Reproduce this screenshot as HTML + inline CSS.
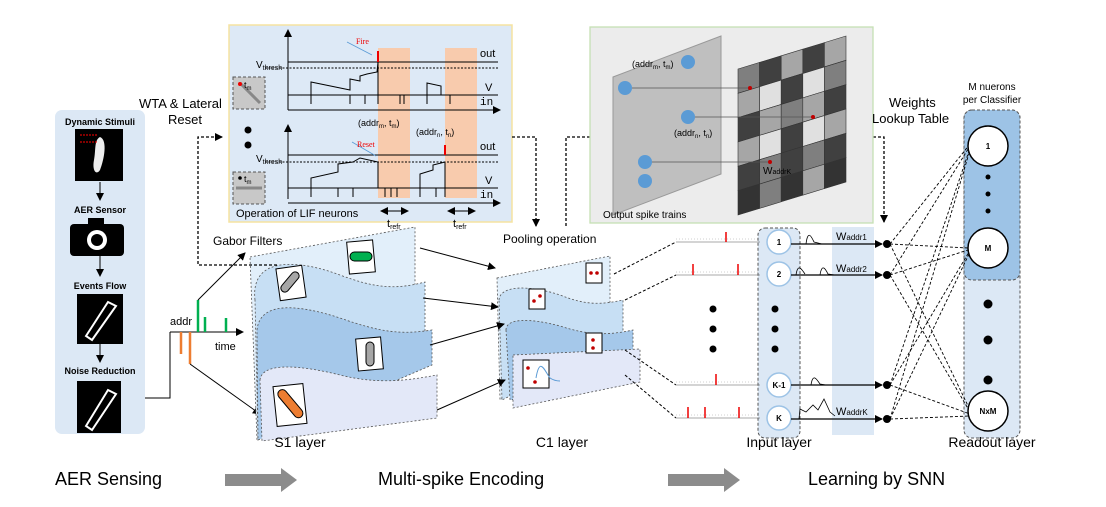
<!DOCTYPE html>
<html><head><meta charset="utf-8"><style>
html,body{margin:0;padding:0;background:#fff;}
svg{display:block;font-family:"Liberation Sans",sans-serif;}
</style></head><body>
<svg width="1106" height="507" viewBox="0 0 1106 507" xmlns="http://www.w3.org/2000/svg">
<defs>
<marker id="a" markerWidth="8" markerHeight="8" refX="7" refY="4" orient="auto" markerUnits="userSpaceOnUse"><path d="M0,0 L8,4 L0,8z" fill="#000"/></marker>
</defs>

<!-- Left panel -->
<rect x="55" y="110" width="90" height="324" rx="7" fill="#dce8f5"/>
<text x="100" y="125" font-size="9" font-weight="bold" text-anchor="middle">Dynamic Stimuli</text>
<rect x="75" y="129" width="48" height="52" fill="#000"/>
<path d="M100,137 C108,140 104,160 100,170 C96,176 92,170 94,160 C96,150 94,140 100,137z" fill="#eee"/>
<line x1="80" y1="135" x2="98" y2="135" stroke="red" stroke-dasharray="2,1"/>
<line x1="80" y1="142" x2="97" y2="142" stroke="red" stroke-dasharray="2,1"/>
<line x1="100" y1="182" x2="100" y2="200" stroke="#000" marker-end="url(#a)"/>
<text x="100" y="213" font-size="9" font-weight="bold" text-anchor="middle">AER Sensor</text>
<rect x="70" y="224" width="54" height="32" rx="4" fill="#000"/>
<rect x="88" y="218" width="16" height="8" fill="#000"/>
<circle cx="97" cy="240" r="10" fill="#fff"/><circle cx="97" cy="240" r="6" fill="#000"/>
<line x1="100" y1="256" x2="100" y2="276" stroke="#000" marker-end="url(#a)"/>
<text x="100" y="289" font-size="9" font-weight="bold" text-anchor="middle">Events Flow</text>
<rect x="77" y="294" width="46" height="50" fill="#000"/>
<path d="M86,336 L108,302 L116,306 L92,340z" fill="none" stroke="#fff" stroke-width="2"/>
<line x1="100" y1="344" x2="100" y2="362" stroke="#000" marker-end="url(#a)"/>
<text x="100" y="374" font-size="9" font-weight="bold" text-anchor="middle">Noise Reduction</text>
<rect x="77" y="381" width="44" height="52" fill="#000"/>
<path d="M86,426 L108,390 L116,394 L92,430z" fill="none" stroke="#fff" stroke-width="2"/>

<!-- addr/time -->
<polyline points="145,398 170,398 170,332" fill="none" stroke="#000"/>
<line x1="170" y1="332" x2="243" y2="332" stroke="#000" marker-end="url(#a)"/>
<text x="170" y="325" font-size="11">addr</text>
<text x="215" y="350" font-size="11">time</text>
<g stroke="#00b050" stroke-width="2.5"><line x1="198" y1="300" x2="198" y2="332"/><line x1="205" y1="317" x2="205" y2="332"/><line x1="226" y1="318" x2="226" y2="332"/></g>
<g stroke="#ed7d31" stroke-width="2.5"><line x1="181" y1="332" x2="181" y2="354"/><line x1="190" y1="332" x2="190" y2="364"/></g>
<line x1="198" y1="300" x2="245" y2="253" stroke="#000" marker-end="url(#a)"/>
<line x1="190" y1="364" x2="260" y2="414" stroke="#000" marker-end="url(#a)"/>

<!-- S1 layer -->
<g stroke="#555" stroke-dasharray="2,2" stroke-width="0.8">
<path d="M250,257 L415,227 L415,300 L257,440z" fill="#e2effa"/>
<path d="M255,300 C250,255 300,260 340,275 C375,288 395,290 425,282 L425,340 L258,440z" fill="#c7dff4"/>
<path d="M257,330 C260,300 300,305 340,318 C380,332 400,335 432,330 L432,365 L258,440z" fill="#a5c8ea"/>
<path d="M260,380 C262,362 300,365 340,375 C380,385 410,380 437,375 L437,418 L262,441z" fill="#e3e8f8"/>
</g>
<g stroke="#000" stroke-width="1"><rect x="348" y="241" width="26" height="32" fill="#fff" transform="rotate(-5 361 257)"/>
<rect x="278" y="267" width="26" height="32" fill="#fff" transform="rotate(-8 291 283)"/>
<rect x="357" y="338" width="25" height="32" fill="#fff" transform="rotate(-5 369 354)"/>
<rect x="275" y="385" width="30" height="40" fill="#fff" transform="rotate(-6 290 405)"/></g>
<rect x="350" y="252" width="22" height="9" rx="4.5" fill="#00b050" stroke="#000"/>
<rect x="286" y="270" width="8" height="24" rx="4" fill="#a6a6a6" stroke="#000" transform="rotate(40 290 282)"/>
<rect x="366" y="342" width="8" height="24" rx="4" fill="#a6a6a6" stroke="#000"/>
<rect x="286" y="387" width="9" height="34" rx="4.5" fill="#ed7d31" stroke="#000" transform="rotate(-40 290 404)"/>
<text x="300" y="447" font-size="14" text-anchor="middle">S1 layer</text>
<text x="213" y="245" font-size="12">Gabor Filters</text>

<!-- C1 layer -->
<g stroke="#555" stroke-dasharray="2,2" stroke-width="0.8">
<path d="M497,278 L610,256 L610,330 L500,400z" fill="#e2effa"/>
<path d="M499,300 C500,285 530,285 560,295 C585,305 600,305 623,300 L623,340 L502,400z" fill="#c7dff4"/>
<path d="M506,330 C506,318 530,318 560,326 C590,336 610,335 633,330 L633,380 L510,400z" fill="#a5c8ea"/>
<path d="M513,355 L640,349 L640,382 L513,408z" fill="#e3e8f8"/>
</g>
<g stroke="#000" fill="#fff"><rect x="586" y="263" width="16" height="20"/><rect x="529" y="289" width="16" height="20"/><rect x="586" y="333" width="16" height="20"/><rect x="523" y="360" width="26" height="28"/></g>
<g fill="#c00000"><circle cx="591" cy="273" r="1.8"/><circle cx="597" cy="273" r="1.8"/><circle cx="534" cy="301" r="1.8"/><circle cx="540" cy="296" r="1.8"/><circle cx="593" cy="340" r="1.8"/><circle cx="593" cy="348" r="1.8"/><circle cx="528" cy="368" r="1.8"/><circle cx="535" cy="382" r="1.8"/></g>
<path d="M536,378 C540,355 545,372 550,378 C553,380 556,381 560,381" fill="none" stroke="#5b9bd5"/>
<text x="562" y="447" font-size="14" text-anchor="middle">C1 layer</text>
<text x="503" y="243" font-size="12">Pooling operation</text>
<g stroke="#000"><line x1="420" y1="248" x2="495" y2="268" marker-end="url(#a)"/><line x1="423" y1="298" x2="498" y2="307" marker-end="url(#a)"/><line x1="430" y1="345" x2="504" y2="324" marker-end="url(#a)"/><line x1="437" y1="410" x2="505" y2="380" marker-end="url(#a)"/></g>
<g stroke="#000" stroke-dasharray="3,2" fill="none"><polyline points="614,274 676,242"/><polyline points="625,300 676,275"/><polyline points="625,350 676,385"/><polyline points="625,375 676,418"/></g>

<!-- LIF box -->
<rect x="229" y="25" width="283" height="197" fill="#dde9f6" stroke="#f5e3a0" stroke-width="1.5"/>
<g fill="#f8cbad"><rect x="378" y="48" width="32" height="150"/><rect x="445" y="48" width="32" height="150"/></g>
<g stroke="#000" stroke-width="1" fill="none">
<line x1="288" y1="110" x2="288" y2="30" marker-end="url(#a)"/>
<line x1="288" y1="62" x2="498" y2="62"/><line x1="288" y1="95" x2="498" y2="95"/><line x1="288" y1="110" x2="500" y2="110" marker-end="url(#a)"/>
<line x1="265" y1="68" x2="498" y2="68" stroke-dasharray="2,1.5"/>
<polyline points="288,95 311,95 311,82 350,90 350,79 360,81 360,76 367,74 377,72 378,62 378,95 427,95 427,83 441,86 441,95"/>
<line x1="288" y1="199" x2="288" y2="125" marker-end="url(#a)"/>
<line x1="288" y1="155" x2="498" y2="155"/><line x1="288" y1="188" x2="498" y2="188"/><line x1="288" y1="203" x2="500" y2="203" marker-end="url(#a)"/>
<line x1="265" y1="162" x2="498" y2="162" stroke-dasharray="2,1.5"/>
<polyline points="288,188 311,188 311,178 338,172 338,164 353,162 360,158 378,162 378,188 420,188 420,174 433,170 433,165 445,162 445,188"/>
</g>
<g stroke="#000"><line x1="311" y1="95" x2="311" y2="104"/><line x1="350" y1="95" x2="350" y2="104"/><line x1="365" y1="95" x2="365" y2="104"/><line x1="378" y1="95" x2="378" y2="104"/><line x1="400" y1="95" x2="400" y2="104"/><line x1="404" y1="95" x2="404" y2="104"/><line x1="427" y1="95" x2="427" y2="104"/><line x1="450" y1="95" x2="450" y2="104"/>
<line x1="311" y1="188" x2="311" y2="197"/><line x1="338" y1="188" x2="338" y2="197"/><line x1="353" y1="188" x2="353" y2="197"/><line x1="385" y1="188" x2="385" y2="197"/><line x1="391" y1="188" x2="391" y2="197"/><line x1="397" y1="188" x2="397" y2="197"/><line x1="420" y1="188" x2="420" y2="197"/><line x1="436" y1="188" x2="436" y2="197"/><line x1="445" y1="188" x2="445" y2="197"/></g>
<line x1="378" y1="51" x2="378" y2="62" stroke="#e00" stroke-width="2"/>
<line x1="445" y1="145" x2="445" y2="155" stroke="#e00" stroke-width="2"/>
<line x1="347" y1="42" x2="372" y2="55" stroke="#5b9bd5" stroke-width="0.8"/>
<line x1="352" y1="142" x2="376" y2="156" stroke="#5b9bd5" stroke-width="0.8"/>
<text x="356" y="44" font-size="8" fill="#e00" font-family="Liberation Serif,serif">Fire</text>
<text x="357" y="147" font-size="8" fill="#e00" font-family="Liberation Serif,serif">Reset</text>
<g font-size="11"><text x="480" y="57">out</text><text x="485" y="91">V</text><text x="480" y="105" font-family="Liberation Mono,monospace">in</text>
<text x="480" y="150">out</text><text x="485" y="184">V</text><text x="480" y="198" font-family="Liberation Mono,monospace">in</text></g>
<text x="256" y="68" font-size="10">V<tspan font-size="7" dy="2">thresh</tspan></text>
<text x="256" y="162" font-size="10">V<tspan font-size="7" dy="2">thresh</tspan></text>
<text x="358" y="126" font-size="9">(addr<tspan font-size="6" dy="2">m</tspan><tspan dy="-2">, t</tspan><tspan font-size="6" dy="2">m</tspan><tspan dy="-2">)</tspan></text>
<text x="416" y="135" font-size="9">(addr<tspan font-size="6" dy="2">n</tspan><tspan dy="-2">, t</tspan><tspan font-size="6" dy="2">n</tspan><tspan dy="-2">)</tspan></text>
<rect x="233" y="77" width="32" height="32" fill="#c8c8c8" stroke="#555" stroke-dasharray="3,2"/>
<line x1="240" y1="83" x2="260" y2="103" stroke="#888" stroke-width="3"/><circle cx="240" cy="84" r="2" fill="#e00"/>
<text x="244" y="88" font-size="9">t<tspan font-size="6" dy="2">m</tspan></text>
<rect x="233" y="172" width="32" height="32" fill="#c8c8c8" stroke="#555" stroke-dasharray="3,2"/>
<line x1="236" y1="188" x2="262" y2="188" stroke="#888" stroke-width="3"/><circle cx="240" cy="178" r="1.8" fill="#000"/>
<text x="244" y="182" font-size="9">t<tspan font-size="6" dy="2">m</tspan></text>
<circle cx="248" cy="130" r="3.5" fill="#000"/><circle cx="248" cy="145" r="3.5" fill="#000"/>
<g stroke="#000"><line x1="381" y1="211" x2="408" y2="211" marker-end="url(#a)"/><line x1="408" y1="211" x2="381" y2="211" marker-end="url(#a)"/><line x1="448" y1="211" x2="475" y2="211" marker-end="url(#a)"/><line x1="475" y1="211" x2="448" y2="211" marker-end="url(#a)"/></g>
<text x="387" y="227" font-size="11">t<tspan font-size="7" dy="2">refr</tspan></text>
<text x="453" y="227" font-size="11">t<tspan font-size="7" dy="2">refr</tspan></text>
<text x="236" y="217" font-size="11">Operation of LIF neurons</text>
<text x="139" y="108" font-size="13">WTA &amp; Lateral</text>
<text x="168" y="124" font-size="13">Reset</text>

<!-- dashed connectors -->
<g stroke="#000" stroke-dasharray="3,2" fill="none" stroke-width="1.3">
<polyline points="277,265 198,265 198,137 222,137" marker-end="url(#a)"/>
<polyline points="512,137 536,137 536,226" marker-end="url(#a)"/>
<polyline points="566,226 566,137 603,137" marker-end="url(#a)"/>
<polyline points="853,137 884,137 884,222" marker-end="url(#a)"/>
</g>

<!-- Output spike trains -->
<rect x="590" y="27" width="283" height="196" fill="#ececec" stroke="#c5e0b4" stroke-width="1.3"/>
<path d="M613,77 L721,36 L721,174 L613,215z" fill="#bfbfbf" stroke="#999"/>
<g transform="matrix(21.6,-6.6,0,24.33,738,69)" stroke="#333" stroke-width="0.6">
<g vector-effect="non-scaling-stroke">
<rect x="0" y="0" width="1" height="1" fill="#7f7f7f" vector-effect="non-scaling-stroke"/><rect x="1" y="0" width="1" height="1" fill="#404040" vector-effect="non-scaling-stroke"/><rect x="2" y="0" width="1" height="1" fill="#a6a6a6" vector-effect="non-scaling-stroke"/><rect x="3" y="0" width="1" height="1" fill="#404040" vector-effect="non-scaling-stroke"/><rect x="4" y="0" width="1" height="1" fill="#a6a6a6" vector-effect="non-scaling-stroke"/>
<rect x="0" y="1" width="1" height="1" fill="#a6a6a6" vector-effect="non-scaling-stroke"/><rect x="1" y="1" width="1" height="1" fill="#e0e0e0" vector-effect="non-scaling-stroke"/><rect x="2" y="1" width="1" height="1" fill="#404040" vector-effect="non-scaling-stroke"/><rect x="3" y="1" width="1" height="1" fill="#e0e0e0" vector-effect="non-scaling-stroke"/><rect x="4" y="1" width="1" height="1" fill="#7f7f7f" vector-effect="non-scaling-stroke"/>
<rect x="0" y="2" width="1" height="1" fill="#404040" vector-effect="non-scaling-stroke"/><rect x="1" y="2" width="1" height="1" fill="#a6a6a6" vector-effect="non-scaling-stroke"/><rect x="2" y="2" width="1" height="1" fill="#7f7f7f" vector-effect="non-scaling-stroke"/><rect x="3" y="2" width="1" height="1" fill="#a6a6a6" vector-effect="non-scaling-stroke"/><rect x="4" y="2" width="1" height="1" fill="#404040" vector-effect="non-scaling-stroke"/>
<rect x="0" y="3" width="1" height="1" fill="#a6a6a6" vector-effect="non-scaling-stroke"/><rect x="1" y="3" width="1" height="1" fill="#e0e0e0" vector-effect="non-scaling-stroke"/><rect x="2" y="3" width="1" height="1" fill="#404040" vector-effect="non-scaling-stroke"/><rect x="3" y="3" width="1" height="1" fill="#e0e0e0" vector-effect="non-scaling-stroke"/><rect x="4" y="3" width="1" height="1" fill="#a6a6a6" vector-effect="non-scaling-stroke"/>
<rect x="0" y="4" width="1" height="1" fill="#404040" vector-effect="non-scaling-stroke"/><rect x="1" y="4" width="1" height="1" fill="#7f7f7f" vector-effect="non-scaling-stroke"/><rect x="2" y="4" width="1" height="1" fill="#404040" vector-effect="non-scaling-stroke"/><rect x="3" y="4" width="1" height="1" fill="#7f7f7f" vector-effect="non-scaling-stroke"/><rect x="4" y="4" width="1" height="1" fill="#404040" vector-effect="non-scaling-stroke"/>
<rect x="0" y="5" width="1" height="1" fill="#333" vector-effect="non-scaling-stroke"/><rect x="1" y="5" width="1" height="1" fill="#7f7f7f" vector-effect="non-scaling-stroke"/><rect x="2" y="5" width="1" height="1" fill="#333" vector-effect="non-scaling-stroke"/><rect x="3" y="5" width="1" height="1" fill="#a6a6a6" vector-effect="non-scaling-stroke"/><rect x="4" y="5" width="1" height="1" fill="#333" vector-effect="non-scaling-stroke"/>
</g></g>
<g stroke="#555" stroke-width="0.8" fill="none"><line x1="632" y1="88" x2="750" y2="88"/><line x1="688" y1="117" x2="813" y2="117"/><line x1="645" y1="162" x2="770" y2="162"/></g>
<g fill="#5b9bd5"><circle cx="625" cy="88" r="7"/><circle cx="688" cy="62" r="7"/><circle cx="688" cy="117" r="7"/><circle cx="645" cy="162" r="7"/><circle cx="645" cy="181" r="7"/></g>
<g fill="#c00000"><circle cx="750" cy="88" r="2"/><circle cx="813" cy="117" r="2"/><circle cx="770" cy="162" r="2"/></g>
<text x="632" y="67" font-size="9">(addr<tspan font-size="6" dy="2">m</tspan><tspan dy="-2">, t</tspan><tspan font-size="6" dy="2">m</tspan><tspan dy="-2">)</tspan></text>
<text x="674" y="136" font-size="9">(addr<tspan font-size="6" dy="2">n</tspan><tspan dy="-2">, t</tspan><tspan font-size="6" dy="2">n</tspan><tspan dy="-2">)</tspan></text>
<text x="763" y="174" font-size="10">W<tspan font-size="7">addrK</tspan></text>
<text x="603" y="218" font-size="10">Output spike trains</text>
<text x="889" y="107" font-size="13">Weights</text>
<text x="872" y="123" font-size="13">Lookup Table</text>

<!-- Input layer etc -->
<rect x="758" y="228" width="42" height="210" rx="7" fill="#dce8f5" stroke="#555" stroke-dasharray="3,2"/>
<rect x="832" y="227" width="42" height="208" fill="#dce8f5"/>
<rect x="964" y="110" width="56" height="328" rx="8" fill="#dce8f5" stroke="#555" stroke-dasharray="3,2"/>
<rect x="964" y="110" width="56" height="170" rx="8" fill="#9dc3e6" stroke="#555" stroke-dasharray="3,2"/>
<text x="992" y="90" font-size="10" text-anchor="middle">M nuerons</text>
<text x="992" y="103" font-size="10" text-anchor="middle">per Classifier</text>

<g stroke="#555" stroke-width="0.6">
<line x1="676" y1="242" x2="760" y2="242"/><line x1="676" y1="275" x2="760" y2="275"/><line x1="676" y1="385" x2="760" y2="385"/><line x1="676" y1="418" x2="760" y2="418"/>
</g>
<g stroke="#888" stroke-width="0.5" stroke-dasharray="0.8,2.2">
<line x1="676" y1="239" x2="758" y2="239"/><line x1="676" y1="272" x2="758" y2="272"/><line x1="676" y1="382" x2="758" y2="382"/><line x1="676" y1="415" x2="758" y2="415"/>
</g>
<g stroke="#e00" stroke-width="1.5"><line x1="726" y1="232" x2="726" y2="242"/><line x1="693" y1="264" x2="693" y2="275"/><line x1="738" y1="264" x2="738" y2="275"/><line x1="716" y1="374" x2="716" y2="385"/><line x1="688" y1="407" x2="688" y2="418"/><line x1="705" y1="407" x2="705" y2="418"/><line x1="739" y1="407" x2="739" y2="418"/></g>
<g fill="#fff" stroke="#9dc3e6" stroke-width="1.5"><circle cx="779" cy="242" r="12"/><circle cx="779" cy="274" r="12"/><circle cx="779" cy="385" r="12"/><circle cx="779" cy="418" r="12"/></g>
<g font-size="8" font-weight="bold" text-anchor="middle"><text x="779" y="245">1</text><text x="779" y="277">2</text><text x="779" y="388">K-1</text><text x="779" y="421">K</text></g>
<g fill="#000"><circle cx="713" cy="309" r="3.5"/><circle cx="713" cy="329" r="3.5"/><circle cx="713" cy="349" r="3.5"/><circle cx="775" cy="309" r="3.5"/><circle cx="775" cy="329" r="3.5"/><circle cx="775" cy="349" r="3.5"/></g>
<g stroke="#000" stroke-width="1.2"><line x1="791" y1="244" x2="882" y2="244" marker-end="url(#a)"/><line x1="791" y1="275" x2="882" y2="275" marker-end="url(#a)"/><line x1="791" y1="385" x2="882" y2="385" marker-end="url(#a)"/><line x1="791" y1="419" x2="882" y2="419" marker-end="url(#a)"/></g>
<g stroke="#000" fill="none" stroke-width="0.8"><path d="M806,244 C808,228 812,238 814,242 L822,244"/><path d="M796,275 C798,262 802,270 805,274 M820,275 C822,262 826,270 828,274 L835,275"/><path d="M811,385 C813,372 817,380 820,384 L826,385"/><path d="M799,419 L800,409 L806,412 L813,405 L818,410 L824,399 L830,412 L835,416"/></g>
<g font-size="11"><text x="836" y="240">W<tspan font-size="8">addr1</tspan></text><text x="836" y="272">W<tspan font-size="8">addr2</tspan></text><text x="836" y="415">W<tspan font-size="8">addrK</tspan></text></g>
<g fill="#000"><circle cx="887" cy="244" r="4"/><circle cx="887" cy="275" r="4"/><circle cx="887" cy="385" r="4"/><circle cx="887" cy="419" r="4"/></g>
<g stroke="#000" stroke-dasharray="3,2" stroke-width="0.9">
<line x1="890" y1="244" x2="970" y2="144"/><line x1="890" y1="244" x2="968" y2="248"/><line x1="890" y1="244" x2="970" y2="410"/>
<line x1="890" y1="275" x2="970" y2="146"/><line x1="890" y1="275" x2="968" y2="250"/><line x1="890" y1="275" x2="970" y2="412"/>
<line x1="890" y1="385" x2="970" y2="148"/><line x1="890" y1="385" x2="969" y2="252"/><line x1="890" y1="385" x2="970" y2="414"/>
<line x1="890" y1="419" x2="970" y2="150"/><line x1="890" y1="419" x2="969" y2="254"/><line x1="890" y1="419" x2="970" y2="416"/>
</g>
<g fill="#fff" stroke="#000" stroke-width="1.5"><circle cx="988" cy="146" r="20"/><circle cx="988" cy="248" r="20"/><circle cx="988" cy="411" r="20"/></g>
<g font-size="8" font-weight="bold" text-anchor="middle"><text x="988" y="149">1</text><text x="988" y="251">M</text><text x="988" y="414">NxM</text></g>
<g fill="#000"><circle cx="988" cy="177" r="2.5"/><circle cx="988" cy="194" r="2.5"/><circle cx="988" cy="211" r="2.5"/><circle cx="988" cy="304" r="4.5"/><circle cx="988" cy="340" r="4.5"/><circle cx="988" cy="380" r="4.5"/></g>
<text x="779" y="447" font-size="14" text-anchor="middle">Input layer</text>
<text x="992" y="447" font-size="14" text-anchor="middle">Readout layer</text>

<!-- bottom -->
<text x="55" y="485" font-size="18">AER  Sensing</text>
<text x="378" y="485" font-size="18">Multi-spike Encoding</text>
<text x="808" y="485" font-size="18">Learning by SNN</text>
<path d="M225,474 L281,474 L281,468 L297,480 L281,492 L281,486 L225,486z" fill="#8c8c8c"/>
<path d="M668,474 L724,474 L724,468 L740,480 L724,492 L724,486 L668,486z" fill="#8c8c8c"/>
</svg>
</body></html>
